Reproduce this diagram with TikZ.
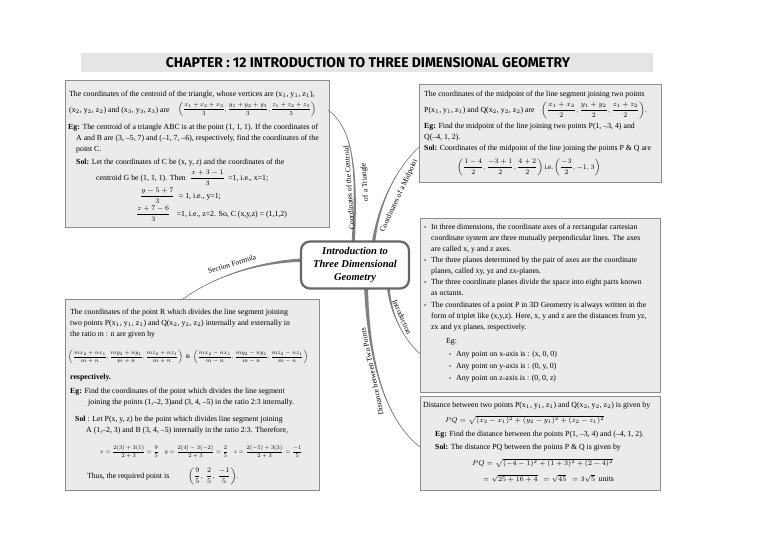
\documentclass[tikz,border=0pt]{standalone}
\usepackage{fix-cm}
\usepackage{amsmath}
\usepackage{graphicx}
\usepackage{fontspec}
\setmainfont{Liberation Serif}
\newfontfamily\titlefont{Fira Sans}
\usetikzlibrary{calc}
\newcommand\bfs{\fontsize{7.8}{9.5}\selectfont}
\newcommand\ffs{\fontsize{7}{8}\selectfont}
\newcommand\lfs{\fontsize{7.5}{9}\selectfont}
\newcommand\bul{\makebox[7pt][l]{\fontsize{6}{6}\selectfont\textbullet}}
\newcommand\mmbranch[5]{%
 \fill[brc] ($(#1)+(#5)$) .. controls ($(#2)+0.5*(#5)$) and (#3) .. (#4) .. controls (#3) and ($(#2)-0.5*(#5)$) .. ($(#1)-(#5)$) -- cycle;
 \draw[brl] (#1) .. controls (#2) and (#3) .. (#4);}
\begin{document}
\begin{tikzpicture}[x=1pt,y=-1pt,
  box/.style={draw=black!45, fill=black!8, line width=0.7pt, anchor=north west, inner sep=0pt},
  tx/.style={anchor=base west, inner sep=0pt, font=\bfs},
  fx/.style={anchor=base west, inner sep=0pt, font=\ffs},
  lab/.style={inner sep=0pt, font=\lfs},
  brc/.style={fill=black!50},
  brl/.style={draw=black!50, line width=0.6pt}]
\useasboundingbox (0,0) rectangle (768,543);
\fill[white] (0,0) rectangle (768,543);
% title
\node[fill=black!10, minimum width=572pt, minimum height=19pt, inner sep=0pt, anchor=north west] (bar) at (81,53) {};
\node[inner sep=0pt] (ttl) at (368,62.5) {\resizebox{404pt}{10pt}{\titlefont\bfseries CHAPTER : 12 INTRODUCTION TO THREE DIMENSIONAL GEOMETRY}};
% boxes
\node[box, minimum width=264pt, minimum height=147pt] (bTL) at (65,80) {};
\node[box, minimum width=242pt, minimum height=98pt] (bTR) at (419,84) {};
\node[box, minimum width=240pt, minimum height=174pt] (bRM) at (420,218) {};
\node[box, minimum width=254pt, minimum height=191pt] (bBL) at (65,299) {};
\node[box, minimum width=240pt, minimum height=94pt] (bBR) at (420,396) {};
% branches
\coordinate (c1s) at (353,246); \coordinate (c1e) at (328,110);
\coordinate (c2s) at (373,246); \coordinate (c2e) at (419,147);
\coordinate (c3s) at (304,260); \coordinate (c3e) at (183,299);
\coordinate (c4s) at (388,285); \coordinate (c4e) at (420,354);
\coordinate (c5s) at (366,285); \coordinate (c5e) at (420,447);
\mmbranch{c1s}{357,180}{356,130}{c1e}{1.7,0}
\mmbranch{c2s}{378,205}{395,170}{c2e}{1.7,0}
\mmbranch{c3s}{255,262}{212,278}{c3e}{0,1.7}
\mmbranch{c4s}{390,310}{400,335}{c4e}{1.5,0}
\mmbranch{c5s}{368,360}{385,420}{c5e}{2,0}
% centre
\node[draw=black!60, line width=2.2pt, rounded corners=9pt, fill=white, minimum width=108pt, minimum height=47pt, align=center, inner sep=1pt, font=\fontsize{10.5}{13}\selectfont\bfseries\itshape] (ctr) at (355,265) {Introduction to\\Three Dimensional\\Geometry};
% branch labels
\node[lab, rotate=94] (lc1) at (349,188) {Coordinates of the Centroid};
\node[lab, rotate=94] (lc2) at (365,182) {of a Triangle};
\node[lab, rotate=65] (lmid) at (399,196) {Coordinates of a Midpoint};
\node[lab, rotate=17] (lsec) at (232,264) {Section Formula};
\node[lab, rotate=-66] (lint) at (402,317) {Introduction};
\node[lab, rotate=102] (ldis) at (372,372) {Distance between Two Points};
% top-left text
\node[tx] (tl1) at (69,96) {The coordinates of the centroid of the triangle, whose vertices are (x$_1$, y$_1$, z$_1$),};
\node[tx] (tl2) at (69,112) {(x$_2$, y$_2$, z$_2$) and (x$_3$, y$_3$, z$_3$) are};
\node[fx, anchor=west] (tl2f) at ([xshift=8pt,yshift=2.5pt]tl2.base east) {\resizebox{138pt}{!}{$\left(\dfrac{x_1+x_2+x_3}{3},\dfrac{y_1+y_2+y_3}{3},\dfrac{z_1+z_2+z_3}{3}\right)$}};
\node[tx] (tl3) at (68,129) {\textbf{Eg:} The centroid of a triangle ABC is at the point (1, 1, 1). If the coordinates of};
\node[tx] (tl4) at (76,140) {A and B are (3, –5, 7) and (–1, 7, –6), respectively, find the coordinates of the};
\node[tx] (tl5) at (76,151) {point C.};
\node[tx] (tl6) at (76,164) {\textbf{Sol:} Let the coordinates of C be (x, y, \textit{z}) and the coordinates of the};
\node[tx] (tl7) at (96,180) {centroid G be (1, 1, 1). Then};
\node[fx] (tl7f) at ([xshift=4pt]tl7.base east) {$\dfrac{x+3-1}{3}$};
\node[tx] (tl7b) at ([xshift=3pt]tl7f.base east) {=1, i.e., x=1;};
\node[fx] (tl8) at (140,198) {$\dfrac{y-5+7}{3}$};
\node[tx] (tl8b) at ([xshift=4pt]tl8.base east) {= 1, i.e., y=1;};
\node[fx] (tl9) at (136,216) {$\dfrac{z+7-6}{3}$};
\node[tx] (tl9b) at ([xshift=6pt]tl9.base east) {=1, i.e., z=2. So, C (x,y,z) = (1,1,2)};
% top-right text
\node[tx] (tr1) at (424,96) {The coordinates of the midpoint of the line segment joining two points};
\node[tx] (tr2) at (424,112) {P(x$_1$, y$_1$, z$_1$) and Q(x$_2$, y$_2$, z$_2$) are};
\node[fx] (tr2f) at ([xshift=6pt]tr2.base east) {$\left(\dfrac{x_1+x_2}{2},\dfrac{y_1+y_2}{2},\dfrac{z_1+z_2}{2}\right)$.};
\node[tx] (tr3) at (424,128) {\textbf{Eg:} Find the midpoint of the line joining two points P(1, –3, 4) and};
\node[tx] (tr4) at (424,139) {Q(–4, 1, 2).};
\node[tx] (tr5) at (424,150) {\textbf{Sol:} Coordinates of the midpoint of the line joining the points P \& Q are};
\node[fx] (tr6) at (457,169) {$\left(\dfrac{1-4}{2},\dfrac{-3+1}{2},\dfrac{4+2}{2}\right)$\,i.e.\,$\left(\dfrac{-3}{2},-1,3\right)$};
% right-middle text
\node[tx] (rm1) at (424,229) {\bul In three dimensions, the coordinate axes of a rectangular cartesian};
\node[tx] (rm2) at (431,240) {coordinate system are three mutually perpendicular lines. The axes};
\node[tx] (rm3) at (431,251) {are called x, y and z axes.};
\node[tx] (rm4) at (424,262) {\bul The three planes determined by the pair of axes are the coordinate};
\node[tx] (rm5) at (431,273) {planes, called xy, yz and zx-planes.};
\node[tx] (rm6) at (424,284) {\bul The three coordinate planes divide the space into eight parts known};
\node[tx] (rm7) at (431,295) {as octants.};
\node[tx] (rm8) at (424,307) {\bul The coordinates of a point P in 3D Geometry is always written in the};
\node[tx] (rm9) at (431,318) {form of triplet like (x,y,z). Here, x, y and z are the distances from yz,};
\node[tx] (rm10) at (431,329) {zx and yx planes, respectively.};
\node[tx] (rm11) at (446,343) {Eg:};
\node[tx] (rm12) at (449,356) {\bul Any point on x-axis is : (x, 0, 0)};
\node[tx] (rm13) at (449,368) {\bul Any point on y-axis is : (0, y, 0)};
\node[tx] (rm14) at (449,380) {\bul Any point on z-axis is : (0, 0, z)};
% bottom-left text
\node[tx] (bl1) at (70,314) {The coordinates of the point R which divides the line segment joining};
\node[tx] (bl2) at (70,325) {two points P(x$_1$, y$_1$, z$_1$) and Q(x$_2$, y$_2$, z$_2$) internally and externally in};
\node[tx] (bl3) at (70,336) {the ratio m : n are given by};
\node[tx, font=\fontsize{7}{8}\selectfont, anchor=west] (bl4) at (68,357) {\resizebox{240pt}{!}{$\left(\dfrac{mx_2+nx_1}{m+n},\dfrac{my_2+ny_1}{m+n},\dfrac{mz_2+nz_1}{m+n}\right)$ \ \& \ $\left(\dfrac{mx_2-nx_1}{m-n},\dfrac{my_2-ny_1}{m-n},\dfrac{mz_2-nz_1}{m-n}\right)$}};
\node[tx] (bl5) at (70,379) {\textbf{respectively.}};
\node[tx] (bl6) at (70,393) {\textbf{Eg:} Find the coordinates of the point which divides the line segment};
\node[tx] (bl7) at (88,404) {joining the points (1,–2, 3)and (3, 4, –5) in the ratio 2:3 internally.};
\node[tx] (bl8) at (75,421) {\textbf{Sol} : Let P(x, y, z) be the point which divides line segment joining};
\node[tx] (bl9) at (86,432) {A (1,–2, 3) and B (3, 4, –5) internally in the ratio 2:3. Therefore,};
\node[tx, font=\fontsize{7}{8}\selectfont, anchor=west] (bl10) at (100,452) {\resizebox{202pt}{!}{$x=\dfrac{2(3)+3(1)}{2+3}=\dfrac{9}{5}$\quad $y=\dfrac{2(4)-3(-2)}{2+3}=\dfrac{2}{5}$\quad $z=\dfrac{2(-5)+3(3)}{2+3}=\dfrac{-1}{5}$}};
\node[tx] (bl11) at (87,478) {Thus, the required point is};
\node[fx] (bl11f) at (188,478) {$\left(\dfrac{9}{5},\ \dfrac{2}{5},\ \dfrac{-1}{5}\right)$.};
% bottom-right text
\node[tx] (br1) at (423,407) {Distance between two points P(x$_1$, y$_1$, z$_1$) and Q(x$_2$, y$_2$, z$_2$) is given by};
\node[fx] (br2) at (445,422) {$PQ=\sqrt{(x_2-x_1)^2+(y_2-y_1)^2+(z_2-z_1)^2}$};
\node[tx] (br3) at (435,436) {\textbf{Eg:} Find the distance between the points P(1, –3, 4) and (–4, 1, 2).};
\node[tx] (br4) at (435,449) {\textbf{Sol:} The distance PQ between the points P \& Q is given by};
\node[fx] (br5) at (472,465) {$PQ=\sqrt{(-4-1)^2+(1+3)^2+(2-4)^2}$};
\node[fx] (br6) at (483,481) {$=\sqrt{25+16+4}\ \ =\sqrt{45}\ \ =3\sqrt{5}$\ \ \fontsize{7.8}{9}\selectfont units};
\end{tikzpicture}
\end{document}
